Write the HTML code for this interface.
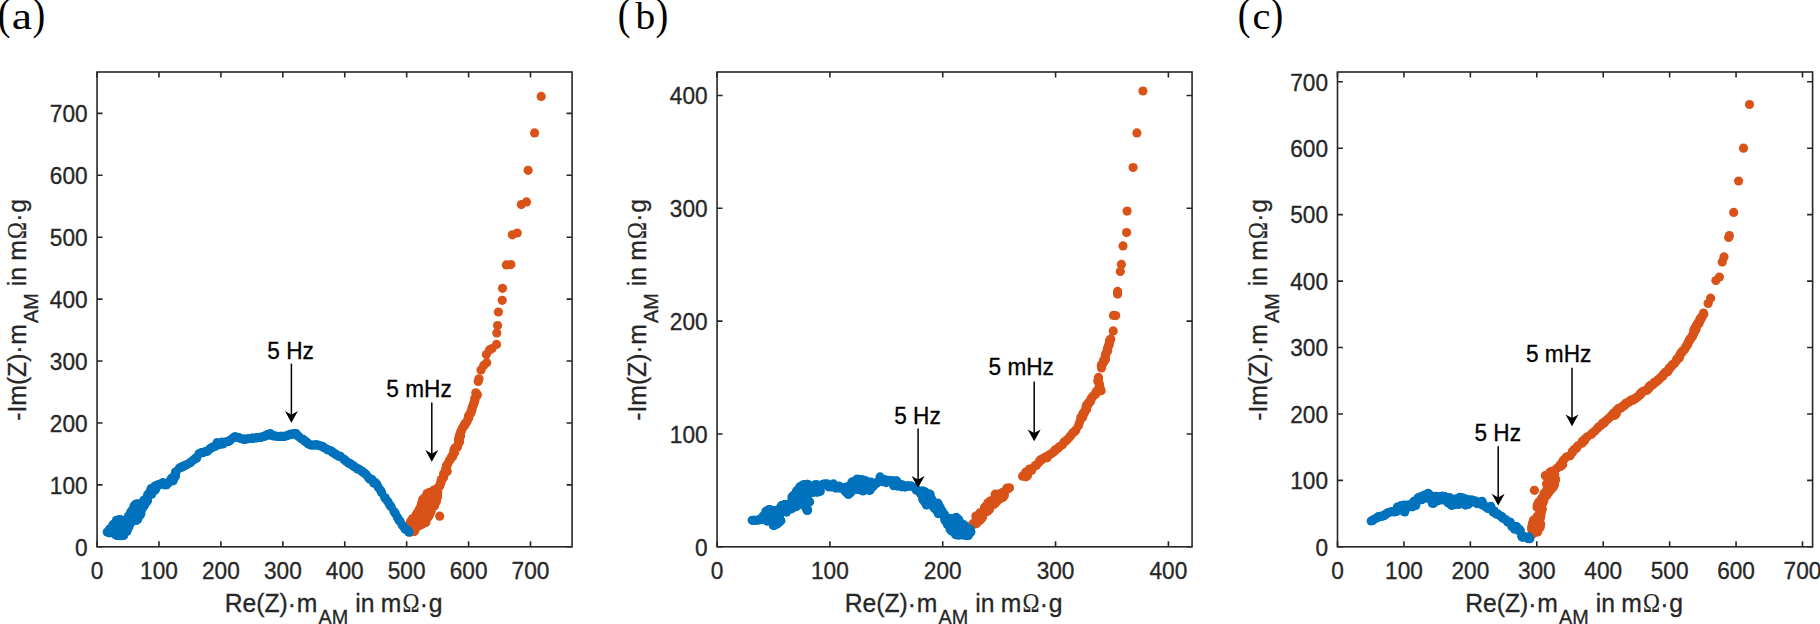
<!DOCTYPE html>
<html><head><meta charset="utf-8"><title>Nyquist plots</title>
<style>
html,body{margin:0;padding:0;background:#fff;}
body{width:1820px;height:624px;overflow:hidden;}
svg{display:block;}
text{font-family:"Liberation Sans",sans-serif;}
.tk{fill:#262626;stroke:#262626;stroke-width:0.3px;}
.lb{fill:#262626;stroke:#262626;stroke-width:0.3px;}
.om{font-family:"Liberation Serif",serif;fill:#262626;stroke:#262626;stroke-width:0.2px;}
.an{fill:#000;stroke:#000;stroke-width:0.3px;}
.pl text{font-family:"Liberation Serif",serif;fill:#000;}
</style></head><body>
<svg width="1820" height="624" viewBox="0 0 1820 624">
<rect width="1820" height="624" fill="#fff"/>
<g stroke="#262626" stroke-width="1.6" fill="none"><rect x="97.07" y="72.00" width="475.00" height="474.80"/><path d="M97.07 546.80v-5.5M97.07 72.00v5.5M158.99 546.80v-5.5M158.99 72.00v5.5M220.91 546.80v-5.5M220.91 72.00v5.5M282.83 546.80v-5.5M282.83 72.00v5.5M344.75 546.80v-5.5M344.75 72.00v5.5M406.67 546.80v-5.5M406.67 72.00v5.5M468.59 546.80v-5.5M468.59 72.00v5.5M530.51 546.80v-5.5M530.51 72.00v5.5M97.07 546.80h5.5M572.07 546.80h-5.5M97.07 484.88h5.5M572.07 484.88h-5.5M97.07 422.96h5.5M572.07 422.96h-5.5M97.07 361.04h5.5M572.07 361.04h-5.5M97.07 299.12h5.5M572.07 299.12h-5.5M97.07 237.20h5.5M572.07 237.20h-5.5M97.07 175.28h5.5M572.07 175.28h-5.5M97.07 113.36h5.5M572.07 113.36h-5.5"/></g><text class="tk" transform="translate(97.07 578.70) scale(0.985 1)" font-size="23.0" text-anchor="middle">0</text>
<text class="tk" transform="translate(158.99 578.70) scale(0.985 1)" font-size="23.0" text-anchor="middle">100</text>
<text class="tk" transform="translate(220.91 578.70) scale(0.985 1)" font-size="23.0" text-anchor="middle">200</text>
<text class="tk" transform="translate(282.83 578.70) scale(0.985 1)" font-size="23.0" text-anchor="middle">300</text>
<text class="tk" transform="translate(344.75 578.70) scale(0.985 1)" font-size="23.0" text-anchor="middle">400</text>
<text class="tk" transform="translate(406.67 578.70) scale(0.985 1)" font-size="23.0" text-anchor="middle">500</text>
<text class="tk" transform="translate(468.59 578.70) scale(0.985 1)" font-size="23.0" text-anchor="middle">600</text>
<text class="tk" transform="translate(530.51 578.70) scale(0.985 1)" font-size="23.0" text-anchor="middle">700</text>
<text class="tk" transform="translate(87.57 555.60) scale(0.985 1)" font-size="23.0" text-anchor="end">0</text>
<text class="tk" transform="translate(87.57 493.68) scale(0.985 1)" font-size="23.0" text-anchor="end">100</text>
<text class="tk" transform="translate(87.57 431.76) scale(0.985 1)" font-size="23.0" text-anchor="end">200</text>
<text class="tk" transform="translate(87.57 369.84) scale(0.985 1)" font-size="23.0" text-anchor="end">300</text>
<text class="tk" transform="translate(87.57 307.92) scale(0.985 1)" font-size="23.0" text-anchor="end">400</text>
<text class="tk" transform="translate(87.57 246.00) scale(0.985 1)" font-size="23.0" text-anchor="end">500</text>
<text class="tk" transform="translate(87.57 184.08) scale(0.985 1)" font-size="23.0" text-anchor="end">600</text>
<text class="tk" transform="translate(87.57 122.16) scale(0.985 1)" font-size="23.0" text-anchor="end">700</text>
<g transform="translate(334.57 611.6)"><text class="lb" transform="translate(-109.90 0.00) scale(0.962 1)" font-size="25.7" text-anchor="start">Re(Z)</text><text class="lb" transform="translate(-46.90 1.20) scale(0.962 1)" font-size="25.7" text-anchor="start">·</text><text class="lb" transform="translate(-37.90 0.00) scale(0.962 1)" font-size="25.7" text-anchor="start">m</text><text class="lb" transform="translate(-16.00 12.00) scale(1.000 1)" font-size="19.8" text-anchor="start">AM </text><text class="lb" transform="translate(20.60 0.00) scale(0.962 1)" font-size="25.7" text-anchor="start">in </text><text class="lb" transform="translate(46.10 0.00) scale(0.962 1)" font-size="25.7" text-anchor="start">m</text><text class="om" transform="translate(67.90 0.00) scale(0.840 1)" font-size="27.2" text-anchor="start">Ω</text><text class="lb" transform="translate(85.20 1.20) scale(0.962 1)" font-size="25.7" text-anchor="start">·</text><text class="lb" transform="translate(94.10 0.00) scale(0.962 1)" font-size="25.7" text-anchor="start">g</text></g>
<g transform="translate(26.27 309.40) rotate(-90)"><text class="lb" transform="translate(-111.40 0.00) scale(0.962 1)" font-size="25.7" text-anchor="start">-Im(Z)</text><text class="lb" transform="translate(-44.40 1.20) scale(0.962 1)" font-size="25.7" text-anchor="start">·</text><text class="lb" transform="translate(-35.40 0.00) scale(0.962 1)" font-size="25.7" text-anchor="start">m</text><text class="lb" transform="translate(-13.50 12.00) scale(1.000 1)" font-size="19.8" text-anchor="start">AM </text><text class="lb" transform="translate(23.10 0.00) scale(0.962 1)" font-size="25.7" text-anchor="start">in </text><text class="lb" transform="translate(48.60 0.00) scale(0.962 1)" font-size="25.7" text-anchor="start">m</text><text class="om" transform="translate(70.40 0.00) scale(0.840 1)" font-size="27.2" text-anchor="start">Ω</text><text class="lb" transform="translate(87.70 1.20) scale(0.962 1)" font-size="25.7" text-anchor="start">·</text><text class="lb" transform="translate(96.60 0.00) scale(0.962 1)" font-size="25.7" text-anchor="start">g</text></g>

<g fill="#D95319"><circle cx="475.8" cy="392.8" r="4.6"/><circle cx="477.2" cy="395.1" r="4.6"/><circle cx="476.8" cy="395.7" r="4.6"/><circle cx="474.8" cy="398.2" r="4.6"/><circle cx="474.9" cy="400.5" r="4.6"/><circle cx="474.2" cy="402.7" r="4.6"/><circle cx="473.6" cy="403.8" r="4.6"/><circle cx="473.3" cy="405.2" r="4.6"/><circle cx="472.1" cy="407.4" r="4.6"/><circle cx="472.0" cy="409.7" r="4.6"/><circle cx="471.1" cy="411.3" r="4.6"/><circle cx="470.9" cy="413.0" r="4.6"/><circle cx="469.3" cy="414.7" r="4.6"/><circle cx="468.4" cy="416.5" r="4.6"/><circle cx="468.8" cy="417.8" r="4.6"/><circle cx="467.3" cy="420.8" r="4.6"/><circle cx="466.5" cy="422.6" r="4.6"/><circle cx="464.7" cy="424.0" r="4.6"/><circle cx="464.7" cy="425.6" r="4.6"/><circle cx="462.9" cy="427.2" r="4.6"/><circle cx="462.1" cy="429.0" r="4.6"/><circle cx="461.3" cy="430.9" r="4.6"/><circle cx="460.6" cy="432.6" r="4.6"/><circle cx="459.6" cy="435.0" r="4.6"/><circle cx="460.6" cy="435.9" r="4.6"/><circle cx="458.9" cy="437.7" r="4.6"/><circle cx="458.4" cy="440.0" r="4.6"/><circle cx="459.6" cy="441.8" r="4.6"/><circle cx="458.4" cy="443.2" r="4.6"/><circle cx="457.6" cy="446.3" r="4.6"/><circle cx="457.1" cy="447.2" r="4.6"/><circle cx="454.9" cy="448.0" r="4.6"/><circle cx="453.9" cy="450.2" r="4.6"/><circle cx="454.7" cy="452.4" r="4.6"/><circle cx="452.9" cy="454.4" r="4.6"/><circle cx="452.7" cy="456.5" r="4.6"/><circle cx="451.3" cy="457.6" r="4.6"/><circle cx="450.3" cy="459.2" r="4.6"/><circle cx="449.4" cy="460.6" r="4.6"/><circle cx="447.8" cy="463.9" r="4.6"/><circle cx="446.5" cy="465.6" r="4.6"/><circle cx="446.6" cy="466.8" r="4.6"/><circle cx="445.6" cy="469.0" r="4.6"/><circle cx="446.8" cy="471.3" r="4.6"/><circle cx="447.1" cy="471.5" r="4.6"/><circle cx="443.6" cy="473.7" r="4.6"/><circle cx="443.8" cy="477.1" r="4.6"/><circle cx="442.9" cy="478.2" r="4.6"/><circle cx="441.3" cy="479.6" r="4.6"/><circle cx="440.8" cy="482.2" r="4.6"/><circle cx="440.8" cy="482.9" r="4.6"/><circle cx="439.8" cy="485.6" r="4.6"/><circle cx="439.4" cy="486.5" r="4.6"/><circle cx="437.7" cy="488.1" r="4.6"/><circle cx="433.8" cy="490.2" r="4.6"/><circle cx="434.0" cy="490.4" r="4.6"/><circle cx="437.7" cy="492.6" r="4.6"/><circle cx="429.4" cy="492.4" r="4.6"/><circle cx="435.6" cy="492.9" r="4.6"/><circle cx="436.0" cy="493.7" r="4.6"/><circle cx="427.2" cy="493.8" r="4.6"/><circle cx="427.2" cy="493.5" r="4.6"/><circle cx="432.8" cy="494.3" r="4.6"/><circle cx="437.4" cy="495.6" r="4.6"/><circle cx="430.0" cy="495.1" r="4.6"/><circle cx="431.0" cy="495.5" r="4.6"/><circle cx="431.1" cy="495.3" r="4.6"/><circle cx="425.4" cy="497.0" r="4.6"/><circle cx="437.1" cy="497.2" r="4.6"/><circle cx="437.4" cy="496.5" r="4.6"/><circle cx="430.3" cy="497.0" r="4.6"/><circle cx="422.8" cy="499.2" r="4.6"/><circle cx="436.7" cy="499.1" r="4.6"/><circle cx="435.7" cy="499.1" r="4.6"/><circle cx="429.5" cy="499.2" r="4.6"/><circle cx="436.2" cy="501.2" r="4.6"/><circle cx="432.1" cy="501.6" r="4.6"/><circle cx="435.6" cy="501.5" r="4.6"/><circle cx="428.2" cy="500.8" r="4.6"/><circle cx="436.0" cy="502.1" r="4.6"/><circle cx="421.7" cy="502.7" r="4.6"/><circle cx="432.9" cy="502.6" r="4.6"/><circle cx="430.4" cy="502.1" r="4.6"/><circle cx="424.0" cy="505.0" r="4.6"/><circle cx="426.5" cy="505.3" r="4.6"/><circle cx="434.2" cy="505.4" r="4.6"/><circle cx="429.2" cy="505.2" r="4.6"/><circle cx="434.0" cy="506.3" r="4.6"/><circle cx="420.9" cy="506.2" r="4.6"/><circle cx="434.4" cy="505.7" r="4.6"/><circle cx="426.8" cy="506.7" r="4.6"/><circle cx="420.8" cy="508.7" r="4.6"/><circle cx="419.4" cy="509.2" r="4.6"/><circle cx="423.0" cy="509.1" r="4.6"/><circle cx="424.7" cy="508.6" r="4.6"/><circle cx="426.6" cy="509.3" r="4.6"/><circle cx="420.2" cy="510.1" r="4.6"/><circle cx="419.4" cy="509.8" r="4.6"/><circle cx="425.4" cy="510.0" r="4.6"/><circle cx="419.1" cy="511.2" r="4.6"/><circle cx="424.2" cy="511.0" r="4.6"/><circle cx="431.1" cy="511.4" r="4.6"/><circle cx="426.5" cy="511.2" r="4.6"/><circle cx="417.1" cy="513.3" r="4.6"/><circle cx="417.3" cy="512.9" r="4.6"/><circle cx="430.0" cy="513.1" r="4.6"/><circle cx="422.9" cy="512.8" r="4.6"/><circle cx="415.9" cy="515.6" r="4.6"/><circle cx="429.3" cy="515.2" r="4.6"/><circle cx="428.8" cy="515.2" r="4.6"/><circle cx="420.8" cy="515.6" r="4.6"/><circle cx="428.0" cy="517.2" r="4.6"/><circle cx="418.8" cy="517.1" r="4.6"/><circle cx="424.1" cy="516.8" r="4.6"/><circle cx="421.6" cy="516.9" r="4.6"/><circle cx="416.5" cy="518.4" r="4.6"/><circle cx="412.7" cy="518.6" r="4.6"/><circle cx="425.8" cy="518.3" r="4.6"/><circle cx="416.9" cy="518.5" r="4.6"/><circle cx="419.1" cy="518.4" r="4.6"/><circle cx="419.1" cy="521.6" r="4.6"/><circle cx="411.3" cy="521.3" r="4.6"/><circle cx="425.8" cy="521.7" r="4.6"/><circle cx="410.9" cy="521.2" r="4.6"/><circle cx="418.3" cy="521.4" r="4.6"/><circle cx="425.7" cy="522.4" r="4.6"/><circle cx="410.7" cy="522.6" r="4.6"/><circle cx="410.8" cy="522.1" r="4.6"/><circle cx="425.2" cy="522.1" r="4.6"/><circle cx="418.7" cy="522.7" r="4.6"/><circle cx="419.3" cy="524.1" r="4.6"/><circle cx="410.1" cy="524.1" r="4.6"/><circle cx="419.0" cy="524.4" r="4.6"/><circle cx="421.8" cy="524.4" r="4.6"/><circle cx="415.7" cy="524.4" r="4.6"/><circle cx="418.6" cy="526.1" r="4.6"/><circle cx="411.9" cy="526.9" r="4.6"/><circle cx="408.7" cy="526.6" r="4.6"/><circle cx="415.3" cy="526.6" r="4.6"/><circle cx="415.0" cy="528.5" r="4.6"/><circle cx="408.6" cy="527.9" r="4.6"/><circle cx="415.1" cy="528.6" r="4.6"/><circle cx="415.2" cy="528.1" r="4.6"/><circle cx="409.2" cy="529.4" r="4.6"/><circle cx="409.2" cy="529.6" r="4.6"/><circle cx="415.0" cy="529.7" r="4.6"/><circle cx="414.6" cy="529.5" r="4.6"/><circle cx="410.5" cy="532.1" r="4.6"/><circle cx="410.9" cy="531.5" r="4.6"/><circle cx="414.3" cy="531.6" r="4.6"/><circle cx="439.7" cy="516.2" r="4.6"/><circle cx="476.9" cy="394.0" r="4.6"/><circle cx="478.2" cy="381.5" r="4.6"/><circle cx="479.0" cy="378.8" r="4.6"/><circle cx="481.0" cy="370.0" r="4.6"/><circle cx="483.7" cy="365.4" r="4.6"/><circle cx="486.7" cy="362.7" r="4.6"/><circle cx="486.4" cy="354.5" r="4.6"/><circle cx="489.4" cy="349.9" r="4.6"/><circle cx="492.1" cy="348.5" r="4.6"/><circle cx="496.5" cy="344.4" r="4.6"/><circle cx="496.8" cy="333.0" r="4.6"/><circle cx="497.6" cy="325.6" r="4.6"/><circle cx="498.4" cy="312.0" r="4.6"/><circle cx="502.2" cy="300.3" r="4.6"/><circle cx="502.5" cy="288.3" r="4.6"/><circle cx="506.3" cy="264.9" r="4.6"/><circle cx="510.9" cy="264.6" r="4.6"/><circle cx="512.3" cy="234.8" r="4.6"/><circle cx="517.2" cy="233.0" r="4.6"/><circle cx="521.3" cy="204.6" r="4.6"/><circle cx="526.5" cy="201.9" r="4.6"/><circle cx="528.1" cy="170.3" r="4.6"/><circle cx="534.6" cy="132.9" r="4.6"/><circle cx="541.2" cy="96.4" r="4.6"/></g>
<g fill="#0072BD"><circle cx="107.2" cy="532.0" r="4.6"/><circle cx="108.5" cy="532.6" r="4.6"/><circle cx="109.6" cy="529.0" r="4.6"/><circle cx="110.0" cy="532.8" r="4.6"/><circle cx="112.6" cy="528.8" r="4.6"/><circle cx="112.9" cy="524.7" r="4.6"/><circle cx="112.5" cy="531.1" r="4.6"/><circle cx="114.6" cy="524.2" r="4.6"/><circle cx="114.2" cy="528.7" r="4.6"/><circle cx="113.8" cy="531.0" r="4.6"/><circle cx="113.7" cy="527.5" r="4.6"/><circle cx="116.2" cy="535.0" r="4.6"/><circle cx="116.3" cy="520.4" r="4.6"/><circle cx="115.6" cy="534.7" r="4.6"/><circle cx="116.4" cy="525.7" r="4.6"/><circle cx="117.6" cy="523.9" r="4.6"/><circle cx="117.7" cy="535.5" r="4.6"/><circle cx="118.4" cy="528.9" r="4.6"/><circle cx="117.9" cy="535.5" r="4.6"/><circle cx="118.5" cy="526.5" r="4.6"/><circle cx="119.7" cy="519.7" r="4.6"/><circle cx="119.3" cy="519.6" r="4.6"/><circle cx="119.5" cy="534.0" r="4.6"/><circle cx="118.8" cy="529.8" r="4.6"/><circle cx="119.5" cy="529.3" r="4.6"/><circle cx="121.6" cy="530.3" r="4.6"/><circle cx="121.8" cy="520.1" r="4.6"/><circle cx="121.1" cy="522.1" r="4.6"/><circle cx="121.5" cy="535.7" r="4.6"/><circle cx="121.1" cy="527.2" r="4.6"/><circle cx="123.7" cy="535.5" r="4.6"/><circle cx="123.8" cy="521.2" r="4.6"/><circle cx="123.2" cy="528.3" r="4.6"/><circle cx="122.9" cy="527.2" r="4.6"/><circle cx="124.8" cy="522.3" r="4.6"/><circle cx="124.5" cy="522.2" r="4.6"/><circle cx="124.5" cy="522.4" r="4.6"/><circle cx="124.6" cy="530.2" r="4.6"/><circle cx="127.0" cy="531.3" r="4.6"/><circle cx="126.3" cy="520.3" r="4.6"/><circle cx="126.4" cy="520.1" r="4.6"/><circle cx="126.4" cy="526.1" r="4.6"/><circle cx="128.9" cy="527.0" r="4.6"/><circle cx="128.4" cy="526.1" r="4.6"/><circle cx="128.5" cy="516.0" r="4.6"/><circle cx="128.0" cy="522.6" r="4.6"/><circle cx="130.3" cy="521.8" r="4.6"/><circle cx="130.4" cy="523.5" r="4.6"/><circle cx="130.7" cy="512.3" r="4.6"/><circle cx="130.5" cy="516.7" r="4.6"/><circle cx="132.6" cy="513.5" r="4.6"/><circle cx="132.2" cy="520.7" r="4.6"/><circle cx="132.0" cy="510.5" r="4.6"/><circle cx="132.2" cy="515.7" r="4.6"/><circle cx="134.0" cy="507.3" r="4.6"/><circle cx="134.2" cy="505.9" r="4.6"/><circle cx="134.6" cy="520.5" r="4.6"/><circle cx="134.3" cy="506.0" r="4.6"/><circle cx="134.6" cy="511.2" r="4.6"/><circle cx="135.5" cy="504.4" r="4.6"/><circle cx="135.9" cy="515.7" r="4.6"/><circle cx="136.2" cy="520.5" r="4.6"/><circle cx="135.5" cy="520.1" r="4.6"/><circle cx="135.3" cy="512.0" r="4.6"/><circle cx="137.7" cy="519.2" r="4.6"/><circle cx="137.1" cy="503.9" r="4.6"/><circle cx="137.1" cy="511.6" r="4.6"/><circle cx="137.6" cy="504.0" r="4.6"/><circle cx="137.2" cy="510.8" r="4.6"/><circle cx="139.9" cy="514.9" r="4.6"/><circle cx="139.7" cy="505.0" r="4.6"/><circle cx="140.5" cy="514.5" r="4.6"/><circle cx="139.7" cy="508.5" r="4.6"/><circle cx="141.1" cy="505.3" r="4.6"/><circle cx="141.0" cy="512.9" r="4.6"/><circle cx="140.4" cy="510.5" r="4.6"/><circle cx="142.4" cy="508.3" r="4.6"/><circle cx="142.4" cy="503.2" r="4.6"/><circle cx="142.2" cy="506.0" r="4.6"/><circle cx="143.8" cy="500.2" r="4.6"/><circle cx="144.0" cy="500.9" r="4.6"/><circle cx="144.4" cy="505.5" r="4.6"/><circle cx="146.7" cy="501.8" r="4.6"/><circle cx="146.9" cy="501.6" r="4.6"/><circle cx="147.4" cy="499.9" r="4.6"/><circle cx="147.3" cy="500.5" r="4.6"/><circle cx="148.2" cy="494.0" r="4.6"/><circle cx="147.5" cy="495.5" r="4.6"/><circle cx="150.3" cy="492.5" r="4.6"/><circle cx="150.8" cy="490.3" r="4.6"/><circle cx="150.4" cy="494.3" r="4.6"/><circle cx="151.2" cy="488.6" r="4.6"/><circle cx="151.4" cy="493.6" r="4.6"/><circle cx="151.7" cy="494.2" r="4.6"/><circle cx="154.4" cy="488.4" r="4.6"/><circle cx="154.9" cy="486.0" r="4.6"/><circle cx="155.3" cy="489.8" r="4.6"/><circle cx="155.0" cy="490.0" r="4.6"/><circle cx="156.7" cy="487.0" r="4.6"/><circle cx="158.3" cy="484.5" r="4.6"/><circle cx="160.8" cy="483.9" r="4.6"/><circle cx="162.9" cy="482.7" r="4.6"/><circle cx="164.0" cy="484.7" r="4.6"/><circle cx="166.2" cy="484.9" r="4.6"/><circle cx="168.2" cy="483.1" r="4.6"/><circle cx="170.4" cy="479.9" r="4.6"/><circle cx="171.9" cy="477.9" r="4.6"/><circle cx="173.6" cy="478.9" r="4.6"/><circle cx="173.1" cy="480.8" r="4.6"/><circle cx="175.3" cy="476.5" r="4.6"/><circle cx="175.4" cy="472.5" r="4.6"/><circle cx="175.4" cy="475.3" r="4.6"/><circle cx="176.2" cy="471.6" r="4.6"/><circle cx="179.5" cy="467.9" r="4.6"/><circle cx="181.6" cy="467.2" r="4.6"/><circle cx="183.3" cy="466.3" r="4.6"/><circle cx="183.7" cy="466.0" r="4.6"/><circle cx="185.6" cy="465.0" r="4.6"/><circle cx="187.0" cy="464.6" r="4.6"/><circle cx="189.6" cy="463.1" r="4.6"/><circle cx="191.0" cy="461.9" r="4.6"/><circle cx="193.8" cy="459.8" r="4.6"/><circle cx="195.5" cy="458.2" r="4.6"/><circle cx="196.7" cy="458.1" r="4.6"/><circle cx="199.0" cy="453.8" r="4.6"/><circle cx="201.3" cy="452.7" r="4.6"/><circle cx="202.7" cy="452.7" r="4.6"/><circle cx="204.2" cy="452.0" r="4.6"/><circle cx="206.3" cy="451.3" r="4.6"/><circle cx="207.4" cy="451.3" r="4.6"/><circle cx="209.6" cy="449.0" r="4.6"/><circle cx="211.5" cy="447.7" r="4.6"/><circle cx="213.4" cy="446.9" r="4.6"/><circle cx="215.7" cy="446.1" r="4.6"/><circle cx="217.0" cy="442.7" r="4.6"/><circle cx="218.1" cy="444.3" r="4.6"/><circle cx="219.9" cy="444.4" r="4.6"/><circle cx="222.1" cy="442.2" r="4.6"/><circle cx="222.9" cy="443.9" r="4.6"/><circle cx="226.3" cy="441.8" r="4.6"/><circle cx="227.9" cy="441.5" r="4.6"/><circle cx="229.2" cy="441.1" r="4.6"/><circle cx="230.3" cy="440.1" r="4.6"/><circle cx="233.0" cy="438.0" r="4.6"/><circle cx="234.7" cy="436.9" r="4.6"/><circle cx="235.6" cy="436.8" r="4.6"/><circle cx="238.9" cy="437.7" r="4.6"/><circle cx="240.1" cy="438.3" r="4.6"/><circle cx="243.1" cy="439.2" r="4.6"/><circle cx="244.6" cy="439.4" r="4.6"/><circle cx="245.3" cy="439.1" r="4.6"/><circle cx="247.7" cy="438.8" r="4.6"/><circle cx="249.3" cy="438.5" r="4.6"/><circle cx="251.9" cy="438.3" r="4.6"/><circle cx="252.2" cy="438.2" r="4.6"/><circle cx="254.4" cy="438.1" r="4.6"/><circle cx="256.9" cy="437.8" r="4.6"/><circle cx="257.5" cy="437.6" r="4.6"/><circle cx="260.9" cy="437.3" r="4.6"/><circle cx="261.1" cy="437.2" r="4.6"/><circle cx="264.1" cy="436.4" r="4.6"/><circle cx="264.9" cy="436.0" r="4.6"/><circle cx="267.3" cy="434.6" r="4.6"/><circle cx="269.4" cy="435.2" r="4.6"/><circle cx="270.2" cy="433.5" r="4.6"/><circle cx="273.2" cy="435.7" r="4.6"/><circle cx="273.4" cy="435.8" r="4.6"/><circle cx="275.4" cy="436.0" r="4.6"/><circle cx="277.3" cy="436.4" r="4.6"/><circle cx="280.4" cy="436.4" r="4.6"/><circle cx="281.4" cy="436.4" r="4.6"/><circle cx="283.7" cy="436.4" r="4.6"/><circle cx="284.4" cy="436.4" r="4.6"/><circle cx="287.4" cy="435.6" r="4.6"/><circle cx="288.5" cy="435.1" r="4.6"/><circle cx="290.7" cy="434.1" r="4.6"/><circle cx="291.4" cy="434.5" r="4.6"/><circle cx="293.9" cy="433.6" r="4.6"/><circle cx="296.2" cy="433.7" r="4.6"/><circle cx="297.4" cy="435.6" r="4.6"/><circle cx="298.9" cy="436.7" r="4.6"/><circle cx="301.3" cy="438.8" r="4.6"/><circle cx="303.1" cy="439.3" r="4.6"/><circle cx="305.0" cy="441.3" r="4.6"/><circle cx="306.9" cy="442.2" r="4.6"/><circle cx="308.0" cy="443.8" r="4.6"/><circle cx="310.7" cy="445.0" r="4.6"/><circle cx="312.4" cy="445.2" r="4.6"/><circle cx="314.9" cy="444.9" r="4.6"/><circle cx="316.5" cy="444.8" r="4.6"/><circle cx="317.9" cy="445.0" r="4.6"/><circle cx="319.1" cy="445.6" r="4.6"/><circle cx="321.2" cy="446.1" r="4.6"/><circle cx="322.9" cy="446.7" r="4.6"/><circle cx="324.1" cy="447.8" r="4.6"/><circle cx="327.1" cy="449.3" r="4.6"/><circle cx="328.1" cy="450.0" r="4.6"/><circle cx="331.0" cy="450.8" r="4.6"/><circle cx="332.3" cy="452.3" r="4.6"/><circle cx="333.6" cy="452.8" r="4.6"/><circle cx="335.6" cy="454.3" r="4.6"/><circle cx="336.5" cy="454.8" r="4.6"/><circle cx="338.7" cy="456.3" r="4.6"/><circle cx="340.5" cy="456.4" r="4.6"/><circle cx="343.6" cy="459.1" r="4.6"/><circle cx="344.2" cy="459.6" r="4.6"/><circle cx="345.9" cy="461.0" r="4.6"/><circle cx="348.4" cy="462.9" r="4.6"/><circle cx="349.8" cy="463.4" r="4.6"/><circle cx="351.4" cy="464.4" r="4.6"/><circle cx="353.5" cy="466.0" r="4.6"/><circle cx="354.8" cy="466.9" r="4.6"/><circle cx="357.6" cy="468.9" r="4.6"/><circle cx="358.7" cy="469.1" r="4.6"/><circle cx="360.9" cy="470.6" r="4.6"/><circle cx="362.7" cy="472.0" r="4.6"/><circle cx="364.0" cy="472.7" r="4.6"/><circle cx="366.0" cy="474.4" r="4.6"/><circle cx="368.2" cy="477.2" r="4.6"/><circle cx="369.9" cy="479.2" r="4.6"/><circle cx="371.8" cy="479.3" r="4.6"/><circle cx="373.7" cy="483.0" r="4.6"/><circle cx="375.5" cy="482.7" r="4.6"/><circle cx="376.9" cy="484.6" r="4.6"/><circle cx="378.1" cy="487.1" r="4.6"/><circle cx="380.6" cy="490.3" r="4.6"/><circle cx="381.7" cy="492.8" r="4.6"/><circle cx="384.8" cy="497.6" r="4.6"/><circle cx="385.3" cy="498.6" r="4.6"/><circle cx="387.9" cy="501.7" r="4.6"/><circle cx="389.8" cy="505.1" r="4.6"/><circle cx="391.1" cy="506.8" r="4.6"/><circle cx="394.0" cy="511.6" r="4.6"/><circle cx="395.3" cy="513.5" r="4.6"/><circle cx="397.4" cy="517.3" r="4.6"/><circle cx="398.9" cy="520.0" r="4.6"/><circle cx="400.1" cy="521.5" r="4.6"/><circle cx="402.3" cy="525.3" r="4.6"/><circle cx="404.6" cy="527.9" r="4.6"/><circle cx="405.2" cy="529.2" r="4.6"/><circle cx="407.6" cy="530.2" r="4.6"/><circle cx="408.9" cy="532.2" r="4.6"/></g>
<text class="an" transform="translate(290.60 358.50) scale(0.985 1)" font-size="23.0" text-anchor="middle">5 Hz</text><path d="M291.40 363.60V416.80" stroke="#000" stroke-width="1.5" fill="none"/><path d="M291.40 422.80l-6.5 -11.8l6.5 3.7l6.5 -3.7z" fill="#000"/>
<text class="an" transform="translate(419.00 396.90) scale(0.985 1)" font-size="23.0" text-anchor="middle">5 mHz</text><path d="M431.80 402.60V455.80" stroke="#000" stroke-width="1.5" fill="none"/><path d="M431.80 461.80l-6.5 -11.8l6.5 3.7l6.5 -3.7z" fill="#000"/>
<g stroke="#262626" stroke-width="1.6" fill="none"><rect x="717.07" y="72.00" width="475.00" height="474.80"/><path d="M717.07 546.80v-5.5M717.07 72.00v5.5M829.90 546.80v-5.5M829.90 72.00v5.5M942.73 546.80v-5.5M942.73 72.00v5.5M1055.56 546.80v-5.5M1055.56 72.00v5.5M1168.39 546.80v-5.5M1168.39 72.00v5.5M717.07 546.80h5.5M1192.07 546.80h-5.5M717.07 433.97h5.5M1192.07 433.97h-5.5M717.07 321.14h5.5M1192.07 321.14h-5.5M717.07 208.31h5.5M1192.07 208.31h-5.5M717.07 95.48h5.5M1192.07 95.48h-5.5"/></g><text class="tk" transform="translate(717.07 578.70) scale(0.985 1)" font-size="23.0" text-anchor="middle">0</text>
<text class="tk" transform="translate(829.90 578.70) scale(0.985 1)" font-size="23.0" text-anchor="middle">100</text>
<text class="tk" transform="translate(942.73 578.70) scale(0.985 1)" font-size="23.0" text-anchor="middle">200</text>
<text class="tk" transform="translate(1055.56 578.70) scale(0.985 1)" font-size="23.0" text-anchor="middle">300</text>
<text class="tk" transform="translate(1168.39 578.70) scale(0.985 1)" font-size="23.0" text-anchor="middle">400</text>
<text class="tk" transform="translate(707.57 555.60) scale(0.985 1)" font-size="23.0" text-anchor="end">0</text>
<text class="tk" transform="translate(707.57 442.77) scale(0.985 1)" font-size="23.0" text-anchor="end">100</text>
<text class="tk" transform="translate(707.57 329.94) scale(0.985 1)" font-size="23.0" text-anchor="end">200</text>
<text class="tk" transform="translate(707.57 217.11) scale(0.985 1)" font-size="23.0" text-anchor="end">300</text>
<text class="tk" transform="translate(707.57 104.28) scale(0.985 1)" font-size="23.0" text-anchor="end">400</text>
<g transform="translate(954.57 611.6)"><text class="lb" transform="translate(-109.90 0.00) scale(0.962 1)" font-size="25.7" text-anchor="start">Re(Z)</text><text class="lb" transform="translate(-46.90 1.20) scale(0.962 1)" font-size="25.7" text-anchor="start">·</text><text class="lb" transform="translate(-37.90 0.00) scale(0.962 1)" font-size="25.7" text-anchor="start">m</text><text class="lb" transform="translate(-16.00 12.00) scale(1.000 1)" font-size="19.8" text-anchor="start">AM </text><text class="lb" transform="translate(20.60 0.00) scale(0.962 1)" font-size="25.7" text-anchor="start">in </text><text class="lb" transform="translate(46.10 0.00) scale(0.962 1)" font-size="25.7" text-anchor="start">m</text><text class="om" transform="translate(67.90 0.00) scale(0.840 1)" font-size="27.2" text-anchor="start">Ω</text><text class="lb" transform="translate(85.20 1.20) scale(0.962 1)" font-size="25.7" text-anchor="start">·</text><text class="lb" transform="translate(94.10 0.00) scale(0.962 1)" font-size="25.7" text-anchor="start">g</text></g>
<g transform="translate(646.27 309.40) rotate(-90)"><text class="lb" transform="translate(-111.40 0.00) scale(0.962 1)" font-size="25.7" text-anchor="start">-Im(Z)</text><text class="lb" transform="translate(-44.40 1.20) scale(0.962 1)" font-size="25.7" text-anchor="start">·</text><text class="lb" transform="translate(-35.40 0.00) scale(0.962 1)" font-size="25.7" text-anchor="start">m</text><text class="lb" transform="translate(-13.50 12.00) scale(1.000 1)" font-size="19.8" text-anchor="start">AM </text><text class="lb" transform="translate(23.10 0.00) scale(0.962 1)" font-size="25.7" text-anchor="start">in </text><text class="lb" transform="translate(48.60 0.00) scale(0.962 1)" font-size="25.7" text-anchor="start">m</text><text class="om" transform="translate(70.40 0.00) scale(0.840 1)" font-size="27.2" text-anchor="start">Ω</text><text class="lb" transform="translate(87.70 1.20) scale(0.962 1)" font-size="25.7" text-anchor="start">·</text><text class="lb" transform="translate(96.60 0.00) scale(0.962 1)" font-size="25.7" text-anchor="start">g</text></g>

<g fill="#D95319"><circle cx="972.5" cy="524.2" r="4.6"/><circle cx="974.6" cy="523.3" r="4.6"/><circle cx="973.8" cy="524.1" r="4.6"/><circle cx="975.7" cy="523.8" r="4.6"/><circle cx="975.9" cy="516.0" r="4.6"/><circle cx="976.1" cy="519.3" r="4.6"/><circle cx="976.7" cy="523.2" r="4.6"/><circle cx="977.3" cy="517.7" r="4.6"/><circle cx="977.5" cy="518.1" r="4.6"/><circle cx="979.8" cy="512.9" r="4.6"/><circle cx="979.8" cy="520.5" r="4.6"/><circle cx="979.7" cy="515.1" r="4.6"/><circle cx="981.6" cy="518.6" r="4.6"/><circle cx="981.6" cy="513.7" r="4.6"/><circle cx="981.2" cy="515.4" r="4.6"/><circle cx="982.6" cy="516.9" r="4.6"/><circle cx="982.7" cy="512.2" r="4.6"/><circle cx="982.6" cy="514.7" r="4.6"/><circle cx="984.6" cy="507.2" r="4.6"/><circle cx="984.8" cy="509.3" r="4.6"/><circle cx="984.7" cy="510.0" r="4.6"/><circle cx="987.2" cy="507.4" r="4.6"/><circle cx="987.3" cy="511.5" r="4.6"/><circle cx="987.2" cy="506.8" r="4.6"/><circle cx="988.2" cy="508.4" r="4.6"/><circle cx="987.7" cy="503.0" r="4.6"/><circle cx="987.6" cy="509.1" r="4.6"/><circle cx="990.1" cy="501.1" r="4.6"/><circle cx="989.5" cy="509.5" r="4.6"/><circle cx="990.2" cy="506.7" r="4.6"/><circle cx="991.9" cy="503.7" r="4.6"/><circle cx="992.4" cy="504.8" r="4.6"/><circle cx="992.3" cy="503.6" r="4.6"/><circle cx="993.9" cy="503.8" r="4.6"/><circle cx="994.2" cy="504.2" r="4.6"/><circle cx="993.8" cy="498.9" r="4.6"/><circle cx="995.2" cy="494.2" r="4.6"/><circle cx="996.0" cy="502.4" r="4.6"/><circle cx="995.6" cy="499.8" r="4.6"/><circle cx="997.2" cy="499.3" r="4.6"/><circle cx="997.7" cy="500.4" r="4.6"/><circle cx="997.7" cy="498.1" r="4.6"/><circle cx="998.7" cy="497.3" r="4.6"/><circle cx="998.6" cy="494.2" r="4.6"/><circle cx="999.0" cy="497.6" r="4.6"/><circle cx="1000.4" cy="495.7" r="4.6"/><circle cx="1000.5" cy="498.5" r="4.6"/><circle cx="1000.7" cy="494.1" r="4.6"/><circle cx="1002.8" cy="497.5" r="4.6"/><circle cx="1002.4" cy="497.3" r="4.6"/><circle cx="1002.5" cy="492.6" r="4.6"/><circle cx="1004.2" cy="495.7" r="4.6"/><circle cx="1004.2" cy="494.6" r="4.6"/><circle cx="1004.5" cy="491.6" r="4.6"/><circle cx="1006.9" cy="488.2" r="4.6"/><circle cx="1008.6" cy="488.6" r="4.6"/><circle cx="1009.5" cy="487.8" r="4.6"/><circle cx="1022.6" cy="476.2" r="4.6"/><circle cx="1024.4" cy="475.5" r="4.6"/><circle cx="1025.8" cy="472.1" r="4.6"/><circle cx="1025.8" cy="476.8" r="4.6"/><circle cx="1027.4" cy="475.8" r="4.6"/><circle cx="1027.3" cy="472.9" r="4.6"/><circle cx="1029.5" cy="469.1" r="4.6"/><circle cx="1031.5" cy="470.5" r="4.6"/><circle cx="1032.1" cy="468.9" r="4.6"/><circle cx="1035.3" cy="465.6" r="4.6"/><circle cx="1036.5" cy="465.2" r="4.6"/><circle cx="1038.8" cy="462.5" r="4.6"/><circle cx="1040.0" cy="460.2" r="4.6"/><circle cx="1041.9" cy="459.7" r="4.6"/><circle cx="1042.8" cy="458.5" r="4.6"/><circle cx="1045.7" cy="456.8" r="4.6"/><circle cx="1047.2" cy="457.8" r="4.6"/><circle cx="1049.8" cy="454.5" r="4.6"/><circle cx="1051.5" cy="453.5" r="4.6"/><circle cx="1053.4" cy="452.0" r="4.6"/><circle cx="1055.4" cy="450.4" r="4.6"/><circle cx="1055.6" cy="449.6" r="4.6"/><circle cx="1058.3" cy="447.9" r="4.6"/><circle cx="1059.7" cy="446.6" r="4.6"/><circle cx="1062.4" cy="444.7" r="4.6"/><circle cx="1064.1" cy="442.0" r="4.6"/><circle cx="1065.2" cy="441.6" r="4.6"/><circle cx="1067.4" cy="439.6" r="4.6"/><circle cx="1069.6" cy="437.1" r="4.6"/><circle cx="1071.1" cy="435.2" r="4.6"/><circle cx="1072.9" cy="432.8" r="4.6"/><circle cx="1074.8" cy="431.5" r="4.6"/><circle cx="1076.0" cy="429.8" r="4.6"/><circle cx="1078.5" cy="425.5" r="4.6"/><circle cx="1079.7" cy="422.1" r="4.6"/><circle cx="1080.8" cy="417.5" r="4.6"/><circle cx="1082.5" cy="417.4" r="4.6"/><circle cx="1083.2" cy="415.2" r="4.6"/><circle cx="1082.8" cy="413.7" r="4.6"/><circle cx="1083.6" cy="413.1" r="4.6"/><circle cx="1084.6" cy="412.4" r="4.6"/><circle cx="1085.4" cy="409.5" r="4.6"/><circle cx="1086.6" cy="409.2" r="4.6"/><circle cx="1086.5" cy="406.8" r="4.6"/><circle cx="1086.4" cy="405.4" r="4.6"/><circle cx="1088.5" cy="404.0" r="4.6"/><circle cx="1088.0" cy="403.2" r="4.6"/><circle cx="1089.8" cy="402.1" r="4.6"/><circle cx="1090.8" cy="401.1" r="4.6"/><circle cx="1090.8" cy="399.5" r="4.6"/><circle cx="1091.5" cy="397.9" r="4.6"/><circle cx="1093.0" cy="396.3" r="4.6"/><circle cx="1094.6" cy="394.8" r="4.6"/><circle cx="1095.7" cy="393.9" r="4.6"/><circle cx="1096.2" cy="391.7" r="4.6"/><circle cx="1097.0" cy="391.2" r="4.6"/><circle cx="1098.6" cy="391.0" r="4.6"/><circle cx="1101.1" cy="390.7" r="4.6"/><circle cx="1100.3" cy="388.4" r="4.6"/><circle cx="1099.1" cy="387.1" r="4.6"/><circle cx="1099.4" cy="385.1" r="4.6"/><circle cx="1099.3" cy="383.8" r="4.6"/><circle cx="1098.1" cy="381.6" r="4.6"/><circle cx="1098.0" cy="381.0" r="4.6"/><circle cx="1098.4" cy="379.5" r="4.6"/><circle cx="1098.5" cy="377.4" r="4.6"/><circle cx="1101.5" cy="367.9" r="4.6"/><circle cx="1101.3" cy="365.8" r="4.6"/><circle cx="1101.9" cy="364.5" r="4.6"/><circle cx="1103.5" cy="362.4" r="4.6"/><circle cx="1103.6" cy="360.6" r="4.6"/><circle cx="1105.3" cy="359.8" r="4.6"/><circle cx="1105.4" cy="358.3" r="4.6"/><circle cx="1105.3" cy="355.5" r="4.6"/><circle cx="1105.9" cy="354.1" r="4.6"/><circle cx="1106.2" cy="353.0" r="4.6"/><circle cx="1107.7" cy="350.7" r="4.6"/><circle cx="1107.3" cy="349.0" r="4.6"/><circle cx="1107.8" cy="347.7" r="4.6"/><circle cx="1109.0" cy="345.2" r="4.6"/><circle cx="1109.0" cy="343.9" r="4.6"/><circle cx="1109.7" cy="341.6" r="4.6"/><circle cx="1109.7" cy="340.0" r="4.6"/><circle cx="1110.8" cy="338.9" r="4.6"/><circle cx="1113.2" cy="330.9" r="4.6"/><circle cx="1113.5" cy="315.4" r="4.6"/><circle cx="1115.7" cy="315.6" r="4.6"/><circle cx="1117.6" cy="294.1" r="4.6"/><circle cx="1117.6" cy="291.4" r="4.6"/><circle cx="1120.3" cy="271.5" r="4.6"/><circle cx="1121.4" cy="264.4" r="4.6"/><circle cx="1123.0" cy="245.9" r="4.6"/><circle cx="1126.6" cy="232.6" r="4.6"/><circle cx="1127.1" cy="211.1" r="4.6"/><circle cx="1133.1" cy="167.5" r="4.6"/><circle cx="1136.9" cy="132.9" r="4.6"/><circle cx="1142.9" cy="91.0" r="4.6"/></g>
<g fill="#0072BD"><circle cx="752.2" cy="520.3" r="4.6"/><circle cx="754.1" cy="520.3" r="4.6"/><circle cx="754.5" cy="520.3" r="4.6"/><circle cx="756.8" cy="520.3" r="4.6"/><circle cx="758.9" cy="519.9" r="4.6"/><circle cx="760.6" cy="519.1" r="4.6"/><circle cx="763.1" cy="516.0" r="4.6"/><circle cx="763.7" cy="519.4" r="4.6"/><circle cx="764.2" cy="517.1" r="4.6"/><circle cx="766.2" cy="512.7" r="4.6"/><circle cx="765.8" cy="511.4" r="4.6"/><circle cx="766.5" cy="516.9" r="4.6"/><circle cx="767.5" cy="520.9" r="4.6"/><circle cx="768.1" cy="510.0" r="4.6"/><circle cx="767.3" cy="520.9" r="4.6"/><circle cx="768.2" cy="515.2" r="4.6"/><circle cx="769.0" cy="517.7" r="4.6"/><circle cx="769.7" cy="509.6" r="4.6"/><circle cx="769.7" cy="509.5" r="4.6"/><circle cx="769.6" cy="514.4" r="4.6"/><circle cx="771.3" cy="510.5" r="4.6"/><circle cx="770.9" cy="510.4" r="4.6"/><circle cx="770.7" cy="510.6" r="4.6"/><circle cx="770.5" cy="514.8" r="4.6"/><circle cx="773.5" cy="525.6" r="4.6"/><circle cx="774.1" cy="525.2" r="4.6"/><circle cx="774.1" cy="511.2" r="4.6"/><circle cx="773.6" cy="516.9" r="4.6"/><circle cx="774.3" cy="510.6" r="4.6"/><circle cx="774.2" cy="525.2" r="4.6"/><circle cx="774.8" cy="510.6" r="4.6"/><circle cx="774.5" cy="522.5" r="4.6"/><circle cx="774.8" cy="518.1" r="4.6"/><circle cx="776.1" cy="514.1" r="4.6"/><circle cx="776.1" cy="522.1" r="4.6"/><circle cx="776.7" cy="524.2" r="4.6"/><circle cx="776.2" cy="516.2" r="4.6"/><circle cx="776.0" cy="518.1" r="4.6"/><circle cx="778.9" cy="522.4" r="4.6"/><circle cx="779.0" cy="522.2" r="4.6"/><circle cx="778.4" cy="522.4" r="4.6"/><circle cx="778.8" cy="515.9" r="4.6"/><circle cx="780.5" cy="507.4" r="4.6"/><circle cx="780.0" cy="520.3" r="4.6"/><circle cx="780.9" cy="520.7" r="4.6"/><circle cx="780.2" cy="513.9" r="4.6"/><circle cx="781.5" cy="505.7" r="4.6"/><circle cx="782.1" cy="505.9" r="4.6"/><circle cx="782.0" cy="505.9" r="4.6"/><circle cx="782.0" cy="511.3" r="4.6"/><circle cx="784.3" cy="504.9" r="4.6"/><circle cx="784.1" cy="504.9" r="4.6"/><circle cx="784.4" cy="504.7" r="4.6"/><circle cx="784.1" cy="509.8" r="4.6"/><circle cx="786.5" cy="504.9" r="4.6"/><circle cx="786.6" cy="512.1" r="4.6"/><circle cx="786.0" cy="506.7" r="4.6"/><circle cx="787.5" cy="506.7" r="4.6"/><circle cx="787.4" cy="509.8" r="4.6"/><circle cx="787.5" cy="507.6" r="4.6"/><circle cx="789.1" cy="507.9" r="4.6"/><circle cx="789.5" cy="508.0" r="4.6"/><circle cx="790.0" cy="506.3" r="4.6"/><circle cx="792.0" cy="497.0" r="4.6"/><circle cx="791.5" cy="501.2" r="4.6"/><circle cx="791.6" cy="508.8" r="4.6"/><circle cx="792.5" cy="502.5" r="4.6"/><circle cx="793.4" cy="503.2" r="4.6"/><circle cx="793.8" cy="506.6" r="4.6"/><circle cx="793.4" cy="495.3" r="4.6"/><circle cx="793.6" cy="502.0" r="4.6"/><circle cx="795.7" cy="496.1" r="4.6"/><circle cx="795.2" cy="506.8" r="4.6"/><circle cx="795.7" cy="496.6" r="4.6"/><circle cx="796.1" cy="499.0" r="4.6"/><circle cx="796.6" cy="491.1" r="4.6"/><circle cx="796.4" cy="506.5" r="4.6"/><circle cx="796.9" cy="490.9" r="4.6"/><circle cx="797.2" cy="491.1" r="4.6"/><circle cx="796.9" cy="497.9" r="4.6"/><circle cx="798.4" cy="491.5" r="4.6"/><circle cx="798.7" cy="495.8" r="4.6"/><circle cx="798.6" cy="504.2" r="4.6"/><circle cx="798.8" cy="504.4" r="4.6"/><circle cx="798.2" cy="495.4" r="4.6"/><circle cx="799.8" cy="490.3" r="4.6"/><circle cx="800.6" cy="502.4" r="4.6"/><circle cx="800.1" cy="487.0" r="4.6"/><circle cx="799.8" cy="486.9" r="4.6"/><circle cx="800.1" cy="493.2" r="4.6"/><circle cx="802.2" cy="486.3" r="4.6"/><circle cx="802.5" cy="485.2" r="4.6"/><circle cx="802.4" cy="487.0" r="4.6"/><circle cx="802.1" cy="499.5" r="4.6"/><circle cx="802.4" cy="492.9" r="4.6"/><circle cx="804.4" cy="493.2" r="4.6"/><circle cx="804.3" cy="497.5" r="4.6"/><circle cx="804.8" cy="486.8" r="4.6"/><circle cx="804.4" cy="484.5" r="4.6"/><circle cx="804.3" cy="494.7" r="4.6"/><circle cx="806.5" cy="498.7" r="4.6"/><circle cx="806.5" cy="507.8" r="4.6"/><circle cx="806.2" cy="507.6" r="4.6"/><circle cx="806.1" cy="484.6" r="4.6"/><circle cx="805.9" cy="507.8" r="4.6"/><circle cx="806.0" cy="495.5" r="4.6"/><circle cx="807.2" cy="510.4" r="4.6"/><circle cx="807.1" cy="484.6" r="4.6"/><circle cx="807.5" cy="510.3" r="4.6"/><circle cx="807.4" cy="509.7" r="4.6"/><circle cx="807.1" cy="484.3" r="4.6"/><circle cx="807.6" cy="484.3" r="4.6"/><circle cx="807.1" cy="495.6" r="4.6"/><circle cx="809.3" cy="490.9" r="4.6"/><circle cx="809.3" cy="502.0" r="4.6"/><circle cx="809.5" cy="501.7" r="4.6"/><circle cx="809.5" cy="493.4" r="4.6"/><circle cx="809.8" cy="491.4" r="4.6"/><circle cx="811.9" cy="492.0" r="4.6"/><circle cx="812.2" cy="492.2" r="4.6"/><circle cx="811.5" cy="487.5" r="4.6"/><circle cx="812.9" cy="490.6" r="4.6"/><circle cx="813.1" cy="491.8" r="4.6"/><circle cx="813.2" cy="489.8" r="4.6"/><circle cx="815.0" cy="492.1" r="4.6"/><circle cx="815.0" cy="484.8" r="4.6"/><circle cx="815.5" cy="488.3" r="4.6"/><circle cx="817.0" cy="491.8" r="4.6"/><circle cx="816.6" cy="484.7" r="4.6"/><circle cx="816.9" cy="488.0" r="4.6"/><circle cx="817.7" cy="491.8" r="4.6"/><circle cx="817.8" cy="491.9" r="4.6"/><circle cx="817.5" cy="487.2" r="4.6"/><circle cx="820.0" cy="490.9" r="4.6"/><circle cx="820.1" cy="491.3" r="4.6"/><circle cx="822.7" cy="484.5" r="4.6"/><circle cx="822.5" cy="484.7" r="4.6"/><circle cx="824.5" cy="483.8" r="4.6"/><circle cx="825.0" cy="484.6" r="4.6"/><circle cx="827.2" cy="483.8" r="4.6"/><circle cx="828.5" cy="486.8" r="4.6"/><circle cx="831.5" cy="486.9" r="4.6"/><circle cx="833.4" cy="483.9" r="4.6"/><circle cx="835.4" cy="487.6" r="4.6"/><circle cx="836.1" cy="488.1" r="4.6"/><circle cx="839.0" cy="486.1" r="4.6"/><circle cx="839.6" cy="488.1" r="4.6"/><circle cx="842.1" cy="487.8" r="4.6"/><circle cx="843.2" cy="488.4" r="4.6"/><circle cx="844.8" cy="490.7" r="4.6"/><circle cx="846.3" cy="487.2" r="4.6"/><circle cx="846.4" cy="492.6" r="4.6"/><circle cx="848.2" cy="486.7" r="4.6"/><circle cx="848.4" cy="494.4" r="4.6"/><circle cx="849.0" cy="491.2" r="4.6"/><circle cx="850.5" cy="492.7" r="4.6"/><circle cx="850.2" cy="485.7" r="4.6"/><circle cx="850.7" cy="488.2" r="4.6"/><circle cx="852.4" cy="486.6" r="4.6"/><circle cx="852.0" cy="482.1" r="4.6"/><circle cx="852.6" cy="485.1" r="4.6"/><circle cx="854.1" cy="488.7" r="4.6"/><circle cx="854.5" cy="481.0" r="4.6"/><circle cx="854.6" cy="485.3" r="4.6"/><circle cx="855.6" cy="482.8" r="4.6"/><circle cx="856.2" cy="484.7" r="4.6"/><circle cx="855.7" cy="489.0" r="4.6"/><circle cx="856.0" cy="482.4" r="4.6"/><circle cx="857.1" cy="489.5" r="4.6"/><circle cx="857.7" cy="489.6" r="4.6"/><circle cx="857.2" cy="479.1" r="4.6"/><circle cx="857.4" cy="483.2" r="4.6"/><circle cx="860.5" cy="489.1" r="4.6"/><circle cx="860.2" cy="480.9" r="4.6"/><circle cx="860.3" cy="479.5" r="4.6"/><circle cx="860.5" cy="485.6" r="4.6"/><circle cx="862.1" cy="480.3" r="4.6"/><circle cx="862.1" cy="490.3" r="4.6"/><circle cx="861.4" cy="479.9" r="4.6"/><circle cx="861.4" cy="486.9" r="4.6"/><circle cx="863.3" cy="480.2" r="4.6"/><circle cx="863.0" cy="490.9" r="4.6"/><circle cx="863.1" cy="490.5" r="4.6"/><circle cx="862.7" cy="484.2" r="4.6"/><circle cx="865.5" cy="484.1" r="4.6"/><circle cx="865.2" cy="480.8" r="4.6"/><circle cx="864.7" cy="483.5" r="4.6"/><circle cx="864.9" cy="483.9" r="4.6"/><circle cx="866.7" cy="482.8" r="4.6"/><circle cx="866.8" cy="488.5" r="4.6"/><circle cx="866.2" cy="481.0" r="4.6"/><circle cx="866.0" cy="485.4" r="4.6"/><circle cx="869.6" cy="490.4" r="4.6"/><circle cx="869.4" cy="488.4" r="4.6"/><circle cx="869.0" cy="487.4" r="4.6"/><circle cx="870.4" cy="489.5" r="4.6"/><circle cx="871.1" cy="482.2" r="4.6"/><circle cx="871.2" cy="486.5" r="4.6"/><circle cx="871.6" cy="487.8" r="4.6"/><circle cx="871.9" cy="484.8" r="4.6"/><circle cx="872.0" cy="483.5" r="4.6"/><circle cx="873.5" cy="486.1" r="4.6"/><circle cx="873.5" cy="484.2" r="4.6"/><circle cx="876.4" cy="483.3" r="4.6"/><circle cx="875.7" cy="483.7" r="4.6"/><circle cx="877.9" cy="481.7" r="4.6"/><circle cx="880.1" cy="476.9" r="4.6"/><circle cx="881.0" cy="480.6" r="4.6"/><circle cx="882.5" cy="481.7" r="4.6"/><circle cx="884.6" cy="479.5" r="4.6"/><circle cx="886.1" cy="482.6" r="4.6"/><circle cx="888.6" cy="480.4" r="4.6"/><circle cx="891.2" cy="480.8" r="4.6"/><circle cx="892.2" cy="480.6" r="4.6"/><circle cx="893.7" cy="485.7" r="4.6"/><circle cx="894.0" cy="483.8" r="4.6"/><circle cx="896.3" cy="481.0" r="4.6"/><circle cx="896.4" cy="480.9" r="4.6"/><circle cx="897.0" cy="481.9" r="4.6"/><circle cx="897.6" cy="486.1" r="4.6"/><circle cx="899.5" cy="484.1" r="4.6"/><circle cx="901.7" cy="486.8" r="4.6"/><circle cx="902.4" cy="484.9" r="4.6"/><circle cx="905.1" cy="487.1" r="4.6"/><circle cx="907.2" cy="486.5" r="4.6"/><circle cx="907.5" cy="485.5" r="4.6"/><circle cx="910.9" cy="486.0" r="4.6"/><circle cx="911.1" cy="486.2" r="4.6"/><circle cx="914.5" cy="487.4" r="4.6"/><circle cx="916.2" cy="490.1" r="4.6"/><circle cx="917.4" cy="490.2" r="4.6"/><circle cx="919.1" cy="491.0" r="4.6"/><circle cx="920.6" cy="493.8" r="4.6"/><circle cx="922.7" cy="490.9" r="4.6"/><circle cx="922.8" cy="499.6" r="4.6"/><circle cx="922.8" cy="497.1" r="4.6"/><circle cx="924.6" cy="492.5" r="4.6"/><circle cx="924.6" cy="501.8" r="4.6"/><circle cx="925.2" cy="491.9" r="4.6"/><circle cx="924.3" cy="499.6" r="4.6"/><circle cx="924.5" cy="500.5" r="4.6"/><circle cx="926.7" cy="504.9" r="4.6"/><circle cx="926.5" cy="497.2" r="4.6"/><circle cx="926.3" cy="504.7" r="4.6"/><circle cx="926.3" cy="498.9" r="4.6"/><circle cx="928.8" cy="501.3" r="4.6"/><circle cx="928.5" cy="495.3" r="4.6"/><circle cx="928.7" cy="495.7" r="4.6"/><circle cx="929.7" cy="494.3" r="4.6"/><circle cx="930.0" cy="494.2" r="4.6"/><circle cx="929.6" cy="497.8" r="4.6"/><circle cx="932.2" cy="500.2" r="4.6"/><circle cx="931.9" cy="501.9" r="4.6"/><circle cx="931.3" cy="498.2" r="4.6"/><circle cx="933.7" cy="507.3" r="4.6"/><circle cx="934.3" cy="503.7" r="4.6"/><circle cx="933.6" cy="504.3" r="4.6"/><circle cx="935.2" cy="508.8" r="4.6"/><circle cx="935.0" cy="508.7" r="4.6"/><circle cx="935.4" cy="503.7" r="4.6"/><circle cx="937.6" cy="508.6" r="4.6"/><circle cx="937.6" cy="511.8" r="4.6"/><circle cx="937.7" cy="503.1" r="4.6"/><circle cx="937.0" cy="507.3" r="4.6"/><circle cx="938.4" cy="513.7" r="4.6"/><circle cx="938.9" cy="505.6" r="4.6"/><circle cx="939.1" cy="510.1" r="4.6"/><circle cx="940.6" cy="512.8" r="4.6"/><circle cx="940.3" cy="507.8" r="4.6"/><circle cx="939.9" cy="511.3" r="4.6"/><circle cx="941.7" cy="511.2" r="4.6"/><circle cx="942.1" cy="511.0" r="4.6"/><circle cx="944.5" cy="514.4" r="4.6"/><circle cx="944.7" cy="518.5" r="4.6"/><circle cx="945.8" cy="521.0" r="4.6"/><circle cx="945.1" cy="520.6" r="4.6"/><circle cx="947.9" cy="522.1" r="4.6"/><circle cx="947.4" cy="524.5" r="4.6"/><circle cx="947.9" cy="519.2" r="4.6"/><circle cx="949.8" cy="518.4" r="4.6"/><circle cx="949.9" cy="518.7" r="4.6"/><circle cx="950.0" cy="529.0" r="4.6"/><circle cx="949.8" cy="522.3" r="4.6"/><circle cx="951.0" cy="519.0" r="4.6"/><circle cx="951.6" cy="530.9" r="4.6"/><circle cx="951.2" cy="530.3" r="4.6"/><circle cx="951.2" cy="523.0" r="4.6"/><circle cx="953.7" cy="518.4" r="4.6"/><circle cx="953.8" cy="531.9" r="4.6"/><circle cx="953.7" cy="518.6" r="4.6"/><circle cx="953.5" cy="525.5" r="4.6"/><circle cx="955.4" cy="533.9" r="4.6"/><circle cx="955.5" cy="531.9" r="4.6"/><circle cx="955.2" cy="528.8" r="4.6"/><circle cx="955.4" cy="533.6" r="4.6"/><circle cx="955.3" cy="526.7" r="4.6"/><circle cx="955.9" cy="534.6" r="4.6"/><circle cx="956.8" cy="525.7" r="4.6"/><circle cx="956.3" cy="534.7" r="4.6"/><circle cx="956.3" cy="517.4" r="4.6"/><circle cx="956.5" cy="524.6" r="4.6"/><circle cx="958.6" cy="519.5" r="4.6"/><circle cx="958.1" cy="535.1" r="4.6"/><circle cx="958.2" cy="528.2" r="4.6"/><circle cx="958.6" cy="524.9" r="4.6"/><circle cx="959.0" cy="529.1" r="4.6"/><circle cx="960.2" cy="527.6" r="4.6"/><circle cx="959.9" cy="522.6" r="4.6"/><circle cx="960.1" cy="535.0" r="4.6"/><circle cx="960.2" cy="527.7" r="4.6"/><circle cx="962.9" cy="524.4" r="4.6"/><circle cx="963.1" cy="524.5" r="4.6"/><circle cx="962.8" cy="531.7" r="4.6"/><circle cx="962.3" cy="528.8" r="4.6"/><circle cx="965.1" cy="529.0" r="4.6"/><circle cx="964.3" cy="525.6" r="4.6"/><circle cx="964.5" cy="535.2" r="4.6"/><circle cx="964.9" cy="531.2" r="4.6"/><circle cx="965.8" cy="535.2" r="4.6"/><circle cx="966.3" cy="535.6" r="4.6"/><circle cx="966.0" cy="530.8" r="4.6"/><circle cx="967.9" cy="535.4" r="4.6"/><circle cx="968.3" cy="535.5" r="4.6"/><circle cx="967.3" cy="533.3" r="4.6"/><circle cx="969.4" cy="531.2" r="4.6"/><circle cx="970.0" cy="529.2" r="4.6"/><circle cx="970.9" cy="532.0" r="4.6"/></g>
<text class="an" transform="translate(917.50 423.50) scale(0.985 1)" font-size="23.0" text-anchor="middle">5 Hz</text><path d="M918.10 428.50V481.70" stroke="#000" stroke-width="1.5" fill="none"/><path d="M918.10 487.70l-6.5 -11.8l6.5 3.7l6.5 -3.7z" fill="#000"/>
<text class="an" transform="translate(1021.20 375.30) scale(0.985 1)" font-size="23.0" text-anchor="middle">5 mHz</text><path d="M1034.20 381.60V435.20" stroke="#000" stroke-width="1.5" fill="none"/><path d="M1034.20 441.20l-6.5 -11.8l6.5 3.7l6.5 -3.7z" fill="#000"/>
<g stroke="#262626" stroke-width="1.6" fill="none"><rect x="1337.50" y="72.00" width="475.10" height="474.80"/><path d="M1337.50 546.80v-5.5M1337.50 72.00v5.5M1403.93 546.80v-5.5M1403.93 72.00v5.5M1470.36 546.80v-5.5M1470.36 72.00v5.5M1536.79 546.80v-5.5M1536.79 72.00v5.5M1603.22 546.80v-5.5M1603.22 72.00v5.5M1669.64 546.80v-5.5M1669.64 72.00v5.5M1736.07 546.80v-5.5M1736.07 72.00v5.5M1802.50 546.80v-5.5M1802.50 72.00v5.5M1337.50 546.80h5.5M1812.60 546.80h-5.5M1337.50 480.37h5.5M1812.60 480.37h-5.5M1337.50 413.94h5.5M1812.60 413.94h-5.5M1337.50 347.51h5.5M1812.60 347.51h-5.5M1337.50 281.08h5.5M1812.60 281.08h-5.5M1337.50 214.65h5.5M1812.60 214.65h-5.5M1337.50 148.23h5.5M1812.60 148.23h-5.5M1337.50 81.80h5.5M1812.60 81.80h-5.5"/></g><text class="tk" transform="translate(1337.50 578.70) scale(0.985 1)" font-size="23.0" text-anchor="middle">0</text>
<text class="tk" transform="translate(1403.93 578.70) scale(0.985 1)" font-size="23.0" text-anchor="middle">100</text>
<text class="tk" transform="translate(1470.36 578.70) scale(0.985 1)" font-size="23.0" text-anchor="middle">200</text>
<text class="tk" transform="translate(1536.79 578.70) scale(0.985 1)" font-size="23.0" text-anchor="middle">300</text>
<text class="tk" transform="translate(1603.22 578.70) scale(0.985 1)" font-size="23.0" text-anchor="middle">400</text>
<text class="tk" transform="translate(1669.64 578.70) scale(0.985 1)" font-size="23.0" text-anchor="middle">500</text>
<text class="tk" transform="translate(1736.07 578.70) scale(0.985 1)" font-size="23.0" text-anchor="middle">600</text>
<text class="tk" transform="translate(1802.50 578.70) scale(0.985 1)" font-size="23.0" text-anchor="middle">700</text>
<text class="tk" transform="translate(1328.00 555.60) scale(0.985 1)" font-size="23.0" text-anchor="end">0</text>
<text class="tk" transform="translate(1328.00 489.17) scale(0.985 1)" font-size="23.0" text-anchor="end">100</text>
<text class="tk" transform="translate(1328.00 422.74) scale(0.985 1)" font-size="23.0" text-anchor="end">200</text>
<text class="tk" transform="translate(1328.00 356.31) scale(0.985 1)" font-size="23.0" text-anchor="end">300</text>
<text class="tk" transform="translate(1328.00 289.88) scale(0.985 1)" font-size="23.0" text-anchor="end">400</text>
<text class="tk" transform="translate(1328.00 223.45) scale(0.985 1)" font-size="23.0" text-anchor="end">500</text>
<text class="tk" transform="translate(1328.00 157.03) scale(0.985 1)" font-size="23.0" text-anchor="end">600</text>
<text class="tk" transform="translate(1328.00 90.60) scale(0.985 1)" font-size="23.0" text-anchor="end">700</text>
<g transform="translate(1575.05 611.6)"><text class="lb" transform="translate(-109.90 0.00) scale(0.962 1)" font-size="25.7" text-anchor="start">Re(Z)</text><text class="lb" transform="translate(-46.90 1.20) scale(0.962 1)" font-size="25.7" text-anchor="start">·</text><text class="lb" transform="translate(-37.90 0.00) scale(0.962 1)" font-size="25.7" text-anchor="start">m</text><text class="lb" transform="translate(-16.00 12.00) scale(1.000 1)" font-size="19.8" text-anchor="start">AM </text><text class="lb" transform="translate(20.60 0.00) scale(0.962 1)" font-size="25.7" text-anchor="start">in </text><text class="lb" transform="translate(46.10 0.00) scale(0.962 1)" font-size="25.7" text-anchor="start">m</text><text class="om" transform="translate(67.90 0.00) scale(0.840 1)" font-size="27.2" text-anchor="start">Ω</text><text class="lb" transform="translate(85.20 1.20) scale(0.962 1)" font-size="25.7" text-anchor="start">·</text><text class="lb" transform="translate(94.10 0.00) scale(0.962 1)" font-size="25.7" text-anchor="start">g</text></g>
<g transform="translate(1266.70 309.40) rotate(-90)"><text class="lb" transform="translate(-111.40 0.00) scale(0.962 1)" font-size="25.7" text-anchor="start">-Im(Z)</text><text class="lb" transform="translate(-44.40 1.20) scale(0.962 1)" font-size="25.7" text-anchor="start">·</text><text class="lb" transform="translate(-35.40 0.00) scale(0.962 1)" font-size="25.7" text-anchor="start">m</text><text class="lb" transform="translate(-13.50 12.00) scale(1.000 1)" font-size="19.8" text-anchor="start">AM </text><text class="lb" transform="translate(23.10 0.00) scale(0.962 1)" font-size="25.7" text-anchor="start">in </text><text class="lb" transform="translate(48.60 0.00) scale(0.962 1)" font-size="25.7" text-anchor="start">m</text><text class="om" transform="translate(70.40 0.00) scale(0.840 1)" font-size="27.2" text-anchor="start">Ω</text><text class="lb" transform="translate(87.70 1.20) scale(0.962 1)" font-size="25.7" text-anchor="start">·</text><text class="lb" transform="translate(96.60 0.00) scale(0.962 1)" font-size="25.7" text-anchor="start">g</text></g>

<g fill="#D95319"><circle cx="1613.3" cy="413.4" r="4.6"/><circle cx="1612.0" cy="415.0" r="4.6"/><circle cx="1609.7" cy="417.4" r="4.6"/><circle cx="1607.6" cy="419.3" r="4.6"/><circle cx="1605.6" cy="421.0" r="4.6"/><circle cx="1604.1" cy="422.9" r="4.6"/><circle cx="1602.7" cy="423.1" r="4.6"/><circle cx="1601.1" cy="425.3" r="4.6"/><circle cx="1598.8" cy="426.8" r="4.6"/><circle cx="1597.4" cy="428.6" r="4.6"/><circle cx="1594.8" cy="431.0" r="4.6"/><circle cx="1592.2" cy="433.3" r="4.6"/><circle cx="1591.2" cy="434.4" r="4.6"/><circle cx="1587.3" cy="436.8" r="4.6"/><circle cx="1585.1" cy="438.8" r="4.6"/><circle cx="1584.7" cy="440.5" r="4.6"/><circle cx="1582.2" cy="441.4" r="4.6"/><circle cx="1582.1" cy="443.2" r="4.6"/><circle cx="1577.7" cy="445.9" r="4.6"/><circle cx="1576.4" cy="448.2" r="4.6"/><circle cx="1574.2" cy="449.6" r="4.6"/><circle cx="1572.5" cy="451.6" r="4.6"/><circle cx="1572.3" cy="452.4" r="4.6"/><circle cx="1570.1" cy="455.5" r="4.6"/><circle cx="1569.8" cy="455.8" r="4.6"/><circle cx="1566.3" cy="457.0" r="4.6"/><circle cx="1563.5" cy="460.2" r="4.6"/><circle cx="1562.7" cy="461.2" r="4.6"/><circle cx="1562.6" cy="464.7" r="4.6"/><circle cx="1560.0" cy="464.9" r="4.6"/><circle cx="1560.5" cy="466.5" r="4.6"/><circle cx="1556.9" cy="468.3" r="4.6"/><circle cx="1552.5" cy="471.0" r="4.6"/><circle cx="1550.2" cy="472.5" r="4.6"/><circle cx="1550.2" cy="472.1" r="4.6"/><circle cx="1554.3" cy="474.6" r="4.6"/><circle cx="1554.7" cy="474.4" r="4.6"/><circle cx="1552.5" cy="474.0" r="4.6"/><circle cx="1545.4" cy="475.8" r="4.6"/><circle cx="1545.7" cy="475.6" r="4.6"/><circle cx="1549.6" cy="475.3" r="4.6"/><circle cx="1551.3" cy="478.6" r="4.6"/><circle cx="1555.1" cy="478.5" r="4.6"/><circle cx="1552.8" cy="478.2" r="4.6"/><circle cx="1555.2" cy="479.2" r="4.6"/><circle cx="1555.6" cy="480.0" r="4.6"/><circle cx="1550.9" cy="479.1" r="4.6"/><circle cx="1548.6" cy="481.4" r="4.6"/><circle cx="1549.8" cy="481.4" r="4.6"/><circle cx="1549.8" cy="482.1" r="4.6"/><circle cx="1546.5" cy="483.8" r="4.6"/><circle cx="1549.0" cy="483.6" r="4.6"/><circle cx="1551.1" cy="484.3" r="4.6"/><circle cx="1553.6" cy="484.2" r="4.6"/><circle cx="1554.5" cy="484.6" r="4.6"/><circle cx="1552.4" cy="484.7" r="4.6"/><circle cx="1548.8" cy="486.7" r="4.6"/><circle cx="1553.4" cy="487.0" r="4.6"/><circle cx="1550.4" cy="486.9" r="4.6"/><circle cx="1547.1" cy="488.4" r="4.6"/><circle cx="1548.7" cy="488.4" r="4.6"/><circle cx="1549.8" cy="488.1" r="4.6"/><circle cx="1548.2" cy="490.4" r="4.6"/><circle cx="1551.0" cy="489.8" r="4.6"/><circle cx="1546.9" cy="492.3" r="4.6"/><circle cx="1548.9" cy="492.3" r="4.6"/><circle cx="1548.1" cy="493.2" r="4.6"/><circle cx="1544.1" cy="493.3" r="4.6"/><circle cx="1546.6" cy="495.5" r="4.6"/><circle cx="1541.6" cy="498.2" r="4.6"/><circle cx="1543.8" cy="500.2" r="4.6"/><circle cx="1539.5" cy="501.6" r="4.6"/><circle cx="1538.4" cy="502.7" r="4.6"/><circle cx="1543.0" cy="502.9" r="4.6"/><circle cx="1537.3" cy="504.9" r="4.6"/><circle cx="1538.7" cy="504.8" r="4.6"/><circle cx="1537.1" cy="507.2" r="4.6"/><circle cx="1537.9" cy="507.6" r="4.6"/><circle cx="1542.1" cy="509.0" r="4.6"/><circle cx="1541.9" cy="508.6" r="4.6"/><circle cx="1540.8" cy="510.3" r="4.6"/><circle cx="1541.7" cy="510.7" r="4.6"/><circle cx="1540.0" cy="511.6" r="4.6"/><circle cx="1541.3" cy="511.3" r="4.6"/><circle cx="1540.9" cy="514.6" r="4.6"/><circle cx="1540.7" cy="513.9" r="4.6"/><circle cx="1540.7" cy="515.9" r="4.6"/><circle cx="1537.2" cy="516.3" r="4.6"/><circle cx="1540.4" cy="517.8" r="4.6"/><circle cx="1538.5" cy="517.4" r="4.6"/><circle cx="1537.5" cy="518.4" r="4.6"/><circle cx="1539.0" cy="518.5" r="4.6"/><circle cx="1533.7" cy="520.2" r="4.6"/><circle cx="1533.4" cy="520.8" r="4.6"/><circle cx="1537.1" cy="520.8" r="4.6"/><circle cx="1532.5" cy="523.3" r="4.6"/><circle cx="1540.3" cy="523.3" r="4.6"/><circle cx="1538.4" cy="522.6" r="4.6"/><circle cx="1540.7" cy="524.4" r="4.6"/><circle cx="1534.1" cy="524.3" r="4.6"/><circle cx="1535.2" cy="524.9" r="4.6"/><circle cx="1540.1" cy="527.0" r="4.6"/><circle cx="1531.7" cy="527.0" r="4.6"/><circle cx="1537.4" cy="526.4" r="4.6"/><circle cx="1531.9" cy="528.1" r="4.6"/><circle cx="1539.8" cy="527.8" r="4.6"/><circle cx="1535.8" cy="528.3" r="4.6"/><circle cx="1536.1" cy="529.7" r="4.6"/><circle cx="1531.8" cy="529.8" r="4.6"/><circle cx="1535.8" cy="529.6" r="4.6"/><circle cx="1533.8" cy="531.6" r="4.6"/><circle cx="1537.6" cy="532.1" r="4.6"/><circle cx="1535.8" cy="531.6" r="4.6"/><circle cx="1532.4" cy="534.3" r="4.6"/><circle cx="1614.9" cy="415.3" r="4.6"/><circle cx="1615.7" cy="414.1" r="4.6"/><circle cx="1616.4" cy="413.4" r="4.6"/><circle cx="1616.1" cy="410.9" r="4.6"/><circle cx="1617.1" cy="410.0" r="4.6"/><circle cx="1618.7" cy="408.3" r="4.6"/><circle cx="1620.1" cy="408.4" r="4.6"/><circle cx="1621.8" cy="407.5" r="4.6"/><circle cx="1622.5" cy="406.2" r="4.6"/><circle cx="1624.5" cy="405.6" r="4.6"/><circle cx="1625.6" cy="404.1" r="4.6"/><circle cx="1626.0" cy="403.1" r="4.6"/><circle cx="1628.3" cy="402.2" r="4.6"/><circle cx="1629.0" cy="402.1" r="4.6"/><circle cx="1630.1" cy="400.9" r="4.6"/><circle cx="1631.7" cy="399.8" r="4.6"/><circle cx="1632.8" cy="400.3" r="4.6"/><circle cx="1633.7" cy="399.4" r="4.6"/><circle cx="1635.7" cy="398.6" r="4.6"/><circle cx="1635.9" cy="397.8" r="4.6"/><circle cx="1638.0" cy="396.8" r="4.6"/><circle cx="1639.3" cy="395.1" r="4.6"/><circle cx="1640.5" cy="394.4" r="4.6"/><circle cx="1640.8" cy="393.0" r="4.6"/><circle cx="1641.9" cy="392.4" r="4.6"/><circle cx="1642.6" cy="391.8" r="4.6"/><circle cx="1643.8" cy="391.1" r="4.6"/><circle cx="1646.4" cy="390.5" r="4.6"/><circle cx="1647.6" cy="389.7" r="4.6"/><circle cx="1649.1" cy="388.1" r="4.6"/><circle cx="1648.7" cy="387.1" r="4.6"/><circle cx="1649.8" cy="386.9" r="4.6"/><circle cx="1650.4" cy="385.3" r="4.6"/><circle cx="1653.0" cy="384.7" r="4.6"/><circle cx="1654.1" cy="382.8" r="4.6"/><circle cx="1654.4" cy="382.3" r="4.6"/><circle cx="1656.1" cy="381.9" r="4.6"/><circle cx="1657.6" cy="380.0" r="4.6"/><circle cx="1658.1" cy="380.5" r="4.6"/><circle cx="1659.8" cy="378.8" r="4.6"/><circle cx="1660.7" cy="377.6" r="4.6"/><circle cx="1662.0" cy="376.5" r="4.6"/><circle cx="1662.8" cy="376.0" r="4.6"/><circle cx="1662.9" cy="374.9" r="4.6"/><circle cx="1664.4" cy="373.3" r="4.6"/><circle cx="1665.6" cy="372.1" r="4.6"/><circle cx="1667.2" cy="371.9" r="4.6"/><circle cx="1668.2" cy="370.9" r="4.6"/><circle cx="1668.8" cy="368.7" r="4.6"/><circle cx="1669.5" cy="368.4" r="4.6"/><circle cx="1670.4" cy="367.3" r="4.6"/><circle cx="1671.5" cy="366.0" r="4.6"/><circle cx="1672.3" cy="364.9" r="4.6"/><circle cx="1673.1" cy="364.5" r="4.6"/><circle cx="1674.8" cy="363.1" r="4.6"/><circle cx="1676.0" cy="361.3" r="4.6"/><circle cx="1676.9" cy="359.5" r="4.6"/><circle cx="1676.9" cy="359.1" r="4.6"/><circle cx="1678.9" cy="358.3" r="4.6"/><circle cx="1679.6" cy="357.1" r="4.6"/><circle cx="1679.6" cy="355.3" r="4.6"/><circle cx="1680.4" cy="354.2" r="4.6"/><circle cx="1681.0" cy="352.7" r="4.6"/><circle cx="1682.3" cy="351.9" r="4.6"/><circle cx="1683.1" cy="350.5" r="4.6"/><circle cx="1684.7" cy="349.3" r="4.6"/><circle cx="1685.7" cy="347.1" r="4.6"/><circle cx="1686.2" cy="346.2" r="4.6"/><circle cx="1687.6" cy="344.7" r="4.6"/><circle cx="1688.0" cy="342.9" r="4.6"/><circle cx="1688.5" cy="341.9" r="4.6"/><circle cx="1689.4" cy="340.6" r="4.6"/><circle cx="1690.0" cy="339.8" r="4.6"/><circle cx="1690.1" cy="338.8" r="4.6"/><circle cx="1691.1" cy="337.9" r="4.6"/><circle cx="1692.7" cy="336.1" r="4.6"/><circle cx="1692.8" cy="335.1" r="4.6"/><circle cx="1693.5" cy="332.2" r="4.6"/><circle cx="1694.5" cy="331.9" r="4.6"/><circle cx="1693.9" cy="329.8" r="4.6"/><circle cx="1696.1" cy="329.3" r="4.6"/><circle cx="1695.7" cy="326.9" r="4.6"/><circle cx="1696.2" cy="327.2" r="4.6"/><circle cx="1696.4" cy="325.3" r="4.6"/><circle cx="1698.9" cy="323.8" r="4.6"/><circle cx="1698.1" cy="322.8" r="4.6"/><circle cx="1699.7" cy="321.4" r="4.6"/><circle cx="1699.9" cy="318.9" r="4.6"/><circle cx="1701.0" cy="318.9" r="4.6"/><circle cx="1701.7" cy="317.4" r="4.6"/><circle cx="1702.2" cy="316.3" r="4.6"/><circle cx="1703.8" cy="314.2" r="4.6"/><circle cx="1703.5" cy="313.0" r="4.6"/><circle cx="1534.4" cy="490.3" r="4.6"/><circle cx="1708.1" cy="303.5" r="4.6"/><circle cx="1710.6" cy="298.2" r="4.6"/><circle cx="1715.9" cy="280.6" r="4.6"/><circle cx="1719.4" cy="277.0" r="4.6"/><circle cx="1722.2" cy="261.9" r="4.6"/><circle cx="1724.0" cy="256.9" r="4.6"/><circle cx="1728.7" cy="237.4" r="4.6"/><circle cx="1729.4" cy="235.6" r="4.6"/><circle cx="1733.7" cy="212.4" r="4.6"/><circle cx="1738.6" cy="181.0" r="4.6"/><circle cx="1743.5" cy="148.2" r="4.6"/><circle cx="1749.5" cy="104.5" r="4.6"/></g>
<g fill="#0072BD"><circle cx="1371.2" cy="521.0" r="4.6"/><circle cx="1372.6" cy="520.4" r="4.6"/><circle cx="1373.9" cy="519.4" r="4.6"/><circle cx="1376.7" cy="517.9" r="4.6"/><circle cx="1378.3" cy="516.7" r="4.6"/><circle cx="1380.4" cy="516.4" r="4.6"/><circle cx="1382.0" cy="516.2" r="4.6"/><circle cx="1384.0" cy="515.7" r="4.6"/><circle cx="1385.4" cy="514.6" r="4.6"/><circle cx="1386.8" cy="513.6" r="4.6"/><circle cx="1388.1" cy="512.7" r="4.6"/><circle cx="1390.8" cy="511.9" r="4.6"/><circle cx="1392.9" cy="511.5" r="4.6"/><circle cx="1394.5" cy="511.9" r="4.6"/><circle cx="1396.5" cy="511.4" r="4.6"/><circle cx="1397.4" cy="507.1" r="4.6"/><circle cx="1398.6" cy="508.5" r="4.6"/><circle cx="1398.5" cy="508.7" r="4.6"/><circle cx="1400.7" cy="509.2" r="4.6"/><circle cx="1401.1" cy="505.5" r="4.6"/><circle cx="1402.4" cy="510.5" r="4.6"/><circle cx="1403.1" cy="505.4" r="4.6"/><circle cx="1404.4" cy="505.2" r="4.6"/><circle cx="1404.7" cy="511.9" r="4.6"/><circle cx="1404.2" cy="509.9" r="4.6"/><circle cx="1406.8" cy="507.8" r="4.6"/><circle cx="1406.2" cy="505.7" r="4.6"/><circle cx="1408.6" cy="504.8" r="4.6"/><circle cx="1408.1" cy="507.0" r="4.6"/><circle cx="1410.3" cy="505.2" r="4.6"/><circle cx="1412.3" cy="506.8" r="4.6"/><circle cx="1413.8" cy="501.4" r="4.6"/><circle cx="1414.1" cy="505.7" r="4.6"/><circle cx="1415.7" cy="505.4" r="4.6"/><circle cx="1415.5" cy="505.0" r="4.6"/><circle cx="1417.9" cy="497.9" r="4.6"/><circle cx="1418.2" cy="500.5" r="4.6"/><circle cx="1419.2" cy="499.8" r="4.6"/><circle cx="1421.0" cy="496.6" r="4.6"/><circle cx="1421.7" cy="499.7" r="4.6"/><circle cx="1424.1" cy="498.0" r="4.6"/><circle cx="1424.4" cy="495.1" r="4.6"/><circle cx="1426.1" cy="497.7" r="4.6"/><circle cx="1426.7" cy="497.9" r="4.6"/><circle cx="1428.7" cy="495.0" r="4.6"/><circle cx="1428.2" cy="493.3" r="4.6"/><circle cx="1428.0" cy="497.9" r="4.6"/><circle cx="1429.5" cy="495.0" r="4.6"/><circle cx="1429.7" cy="495.1" r="4.6"/><circle cx="1429.8" cy="497.0" r="4.6"/><circle cx="1432.2" cy="496.6" r="4.6"/><circle cx="1432.3" cy="503.3" r="4.6"/><circle cx="1432.0" cy="498.2" r="4.6"/><circle cx="1433.6" cy="503.2" r="4.6"/><circle cx="1433.1" cy="497.4" r="4.6"/><circle cx="1433.5" cy="498.1" r="4.6"/><circle cx="1435.5" cy="498.0" r="4.6"/><circle cx="1435.6" cy="496.4" r="4.6"/><circle cx="1437.4" cy="497.7" r="4.6"/><circle cx="1437.1" cy="501.0" r="4.6"/><circle cx="1438.6" cy="496.7" r="4.6"/><circle cx="1441.6" cy="499.9" r="4.6"/><circle cx="1442.2" cy="496.2" r="4.6"/><circle cx="1444.5" cy="498.1" r="4.6"/><circle cx="1444.8" cy="496.5" r="4.6"/><circle cx="1447.2" cy="500.2" r="4.6"/><circle cx="1447.0" cy="498.3" r="4.6"/><circle cx="1448.1" cy="502.1" r="4.6"/><circle cx="1447.7" cy="502.5" r="4.6"/><circle cx="1449.3" cy="503.6" r="4.6"/><circle cx="1449.6" cy="497.6" r="4.6"/><circle cx="1451.3" cy="503.3" r="4.6"/><circle cx="1451.8" cy="505.4" r="4.6"/><circle cx="1451.8" cy="502.3" r="4.6"/><circle cx="1454.2" cy="499.3" r="4.6"/><circle cx="1454.0" cy="502.8" r="4.6"/><circle cx="1454.1" cy="504.4" r="4.6"/><circle cx="1455.1" cy="499.9" r="4.6"/><circle cx="1454.9" cy="504.4" r="4.6"/><circle cx="1455.4" cy="503.2" r="4.6"/><circle cx="1457.8" cy="498.7" r="4.6"/><circle cx="1457.7" cy="498.6" r="4.6"/><circle cx="1457.2" cy="503.0" r="4.6"/><circle cx="1459.1" cy="498.3" r="4.6"/><circle cx="1458.6" cy="504.4" r="4.6"/><circle cx="1459.7" cy="497.4" r="4.6"/><circle cx="1460.5" cy="502.7" r="4.6"/><circle cx="1461.8" cy="497.6" r="4.6"/><circle cx="1461.5" cy="503.0" r="4.6"/><circle cx="1464.0" cy="498.7" r="4.6"/><circle cx="1464.8" cy="501.8" r="4.6"/><circle cx="1465.5" cy="505.1" r="4.6"/><circle cx="1465.3" cy="498.9" r="4.6"/><circle cx="1468.1" cy="504.5" r="4.6"/><circle cx="1467.9" cy="499.6" r="4.6"/><circle cx="1469.7" cy="502.0" r="4.6"/><circle cx="1471.5" cy="499.8" r="4.6"/><circle cx="1473.1" cy="501.9" r="4.6"/><circle cx="1475.0" cy="500.9" r="4.6"/><circle cx="1476.9" cy="503.6" r="4.6"/><circle cx="1478.3" cy="502.0" r="4.6"/><circle cx="1481.4" cy="504.6" r="4.6"/><circle cx="1482.1" cy="501.4" r="4.6"/><circle cx="1483.3" cy="504.4" r="4.6"/><circle cx="1485.5" cy="506.7" r="4.6"/><circle cx="1487.9" cy="508.4" r="4.6"/><circle cx="1489.1" cy="508.3" r="4.6"/><circle cx="1490.8" cy="506.3" r="4.6"/><circle cx="1493.2" cy="512.1" r="4.6"/><circle cx="1494.3" cy="511.0" r="4.6"/><circle cx="1496.3" cy="514.1" r="4.6"/><circle cx="1498.1" cy="514.2" r="4.6"/><circle cx="1500.7" cy="516.2" r="4.6"/><circle cx="1501.8" cy="516.5" r="4.6"/><circle cx="1502.8" cy="518.2" r="4.6"/><circle cx="1505.5" cy="519.6" r="4.6"/><circle cx="1507.7" cy="521.9" r="4.6"/><circle cx="1509.4" cy="522.1" r="4.6"/><circle cx="1510.4" cy="522.4" r="4.6"/><circle cx="1511.8" cy="526.5" r="4.6"/><circle cx="1514.6" cy="529.2" r="4.6"/><circle cx="1516.1" cy="526.7" r="4.6"/><circle cx="1516.4" cy="526.5" r="4.6"/><circle cx="1518.0" cy="528.4" r="4.6"/><circle cx="1518.8" cy="530.7" r="4.6"/><circle cx="1519.9" cy="529.9" r="4.6"/><circle cx="1520.3" cy="531.1" r="4.6"/><circle cx="1521.7" cy="536.3" r="4.6"/><circle cx="1522.5" cy="537.3" r="4.6"/><circle cx="1524.4" cy="536.7" r="4.6"/><circle cx="1527.8" cy="538.6" r="4.6"/><circle cx="1528.8" cy="536.9" r="4.6"/><circle cx="1529.8" cy="538.7" r="4.6"/></g>
<text class="an" transform="translate(1497.70 440.50) scale(0.985 1)" font-size="23.0" text-anchor="middle">5 Hz</text><path d="M1498.20 446.20V499.60" stroke="#000" stroke-width="1.5" fill="none"/><path d="M1498.20 505.60l-6.5 -11.8l6.5 3.7l6.5 -3.7z" fill="#000"/>
<text class="an" transform="translate(1558.60 361.70) scale(0.985 1)" font-size="23.0" text-anchor="middle">5 mHz</text><path d="M1572.00 367.70V420.20" stroke="#000" stroke-width="1.5" fill="none"/><path d="M1572.00 426.20l-6.5 -11.8l6.5 3.7l6.5 -3.7z" fill="#000"/>
<g class="pl"><text transform="translate(-2.2 28.8) scale(0.85 1)" font-size="45">(</text><text transform="translate(11.8 28.8) scale(1.22 1)" font-size="37.5">a</text><text transform="translate(32.6 28.8) scale(0.85 1)" font-size="45">)</text></g>
<g class="pl"><text transform="translate(617.8 28.8) scale(0.85 1)" font-size="45">(</text><text transform="translate(635.6 28.8) scale(1.05 1)" font-size="37.5">b</text><text transform="translate(655.6 28.8) scale(0.85 1)" font-size="45">)</text></g>
<g class="pl"><text transform="translate(1237.8 28.8) scale(0.85 1)" font-size="45">(</text><text transform="translate(1252.5 28.8) scale(1.08 1)" font-size="37.5">c</text><text transform="translate(1270.4 28.8) scale(0.85 1)" font-size="45">)</text></g>
</svg>
</body></html>
